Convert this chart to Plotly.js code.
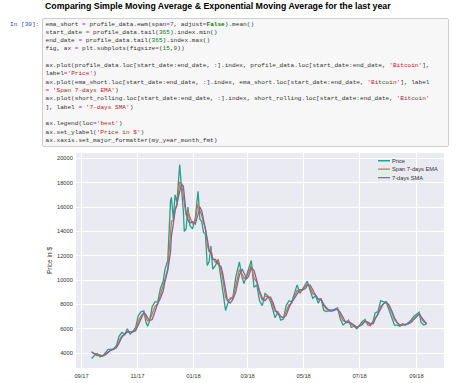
<!DOCTYPE html>
<html>
<head>
<meta charset="utf-8">
<script src="https://cdn.plot.ly/plotly-3.0.1.min.js"></script>
<style>
  html, body { margin:0; padding:0; background:#fff; width:474px; height:383px; overflow:hidden; }
  #chart { position:absolute; left:0; top:0; width:474px; height:383px; }
  #heading { position:absolute; left:45px; top:0px; font-family:"Liberation Sans", Arial, sans-serif; font-weight:bold; font-size:10px; color:#000; white-space:nowrap; line-height:13px; }
  #prompt { position:absolute; left:10px; top:20.5px; font-family:"Liberation Mono", monospace; font-size:6.1px; line-height:8.33px; color:#303F9F; white-space:pre; }
  #codebox { position:absolute; left:42px; top:18px; width:405px; height:127px; background:#f7f7f7; border:1px solid #cfcfcf; border-radius:2px; }
  #code { position:absolute; left:45.5px; top:20.5px; margin:0; font-family:"Liberation Mono", monospace; font-size:6.1px; line-height:8.33px; color:#333; }
  #code div { white-space:pre; height:8.33px; }
  .s { color:#BA2121; }
  .k { color:#008000; font-weight:bold; }
  .o { color:#AA22FF; }
  .n { color:#008000; }
</style>
</head>
<body>
<div id="heading">Comparing Simple Moving Average &amp; Exponential Moving Average for the last year</div>
<div id="prompt">In [30]:</div>
<div id="codebox"></div>
<div id="code">
<div>ema_short <span class="o">=</span> profile_data.ewm(span<span class="o">=</span><span class="n">7</span>, adjust<span class="o">=</span><span class="k">False</span>).mean()</div>
<div>start_date <span class="o">=</span> profile_data.tail(<span class="n">365</span>).index.min()</div>
<div>end_date <span class="o">=</span> profile_data.tail(<span class="n">365</span>).index.max()</div>
<div>fig, ax <span class="o">=</span> plt.subplots(figsize<span class="o">=</span>(<span class="n">15</span>,<span class="n">9</span>))</div>
<div></div>
<div>ax.plot(profile_data.loc[start_date:end_date, :].index, profile_data.loc[start_date:end_date, <span class="s">'Bitcoin'</span>],</div>
<div>label<span class="o">=</span><span class="s">'Price'</span>)</div>
<div>ax.plot(ema_short.loc[start_date:end_date, :].index, ema_short.loc[start_date:end_date, <span class="s">'Bitcoin'</span>], label</div>
<div><span class="o">=</span> <span class="s">'Span 7-days EMA'</span>)</div>
<div>ax.plot(short_rolling.loc[start_date:end_date, :].index, short_rolling.loc[start_date:end_date, <span class="s">'Bitcoin'</span></div>
<div>], label <span class="o">=</span> <span class="s">'7-days SMA'</span>)</div>
<div></div>
<div>ax.legend(loc<span class="o">=</span><span class="s">'best'</span>)</div>
<div>ax.set_ylabel(<span class="s">'Price in $'</span>)</div>
<div>ax.xaxis.set_major_formatter(my_year_month_fmt)</div>
</div>
<div id="chart"></div>
<script>
// ---- data ----
const dates = [
 '2017-09-12','2017-09-15','2017-09-18','2017-09-21','2017-09-24','2017-09-27','2017-09-30',
 '2017-10-03','2017-10-06','2017-10-09','2017-10-12','2017-10-15','2017-10-18','2017-10-21','2017-10-24','2017-10-27','2017-10-30',
 '2017-11-02','2017-11-05','2017-11-08','2017-11-10','2017-11-12','2017-11-14','2017-11-17','2017-11-20','2017-11-23','2017-11-26','2017-11-29',
 '2017-12-01','2017-12-04','2017-12-07','2017-12-08','2017-12-10','2017-12-12','2017-12-14','2017-12-17','2017-12-19','2017-12-21','2017-12-22','2017-12-24','2017-12-26','2017-12-28','2017-12-31',
 '2018-01-03','2018-01-06','2018-01-08','2018-01-10','2018-01-12','2018-01-14','2018-01-16','2018-01-18','2018-01-20','2018-01-22','2018-01-25','2018-01-28','2018-01-31',
 '2018-02-02','2018-02-05','2018-02-07','2018-02-10','2018-02-13','2018-02-16','2018-02-20','2018-02-23','2018-02-25','2018-02-28',
 '2018-03-02','2018-03-05','2018-03-08','2018-03-11','2018-03-14','2018-03-17','2018-03-20','2018-03-23','2018-03-26','2018-03-29','2018-03-31',
 '2018-04-03','2018-04-06','2018-04-09','2018-04-12','2018-04-15','2018-04-18','2018-04-21','2018-04-24','2018-04-27','2018-04-30',
 '2018-05-03','2018-05-05','2018-05-08','2018-05-11','2018-05-14','2018-05-17','2018-05-20','2018-05-23','2018-05-26','2018-05-29',
 '2018-06-01','2018-06-04','2018-06-07','2018-06-10','2018-06-13','2018-06-16','2018-06-19','2018-06-22','2018-06-25','2018-06-28',
 '2018-07-01','2018-07-04','2018-07-07','2018-07-10','2018-07-13','2018-07-16','2018-07-18','2018-07-21','2018-07-24','2018-07-27','2018-07-30',
 '2018-08-02','2018-08-05','2018-08-08','2018-08-11','2018-08-14','2018-08-17','2018-08-20','2018-08-23','2018-08-26','2018-08-29',
 '2018-09-01','2018-09-04','2018-09-06','2018-09-09','2018-09-12'
];
const price = [
 3550,3800,3950,3700,3750,4050,4300,4300,4350,4600,5400,5700,5550,6000,5550,5800,6100,7100,7400,7450,6600,6200,6600,7800,8200,8200,9300,9900,10900,11600,16500,16800,15000,17000,16400,19500,17700,15600,14000,14200,16000,14500,14200,
 15100,17300,15000,14800,13900,13800,11200,11500,12800,10900,11200,11700,10200,
 9100,7500,8000,8500,8600,10200,11500,10200,9700,10400,
 11000,11600,9400,9600,8300,7900,8900,8700,8200,7400,6900,
 7400,6700,6800,7900,8300,8200,8900,9600,8900,9300,
 9700,9900,9200,8500,8700,8100,8500,7500,7400,7500,
 7500,7600,7700,6800,6300,6500,6700,6100,6200,6000,
 6350,6600,6750,6300,6250,6700,7300,7400,8300,8200,8200,
 7600,7000,6300,6300,6200,6400,6300,6500,6700,7000,
 7200,7350,6500,6300,6400
];
const ema7 = [
 4100,3930,3940,3800,3770,3930,4145,4235,4300,4475,5010,5410,5490,5785,5650,5737,5950,6617,7070,7290,6985,6640,6622,7305,7825,8043,8772,9426,10075,10960,14173,14830,14905,15827,16079,18063,17903,16890,16168,15302,15609,15121,14587,
 14885,16285,15720,15315,14692,14300,12936,12304,12522,11808,11455,11597,10787,
 10045,8569,8319,8424,8526,9497,10859,10477,10135,10289,
 10602,11181,10148,9830,8943,8338,8664,8685,8404,7822,7416,
 7407,6997,6883,7473,7953,8096,8562,9164,9011,9179,
 9481,9665,9395,8876,8774,8383,8451,7899,7610,7546,
 7519,7566,7644,7154,6659,6567,6644,6328,6254,6107,
 6248,6452,6625,6436,6328,6544,6877,7180,7830,8045,8135,
 7825,7346,6739,6484,6319,6366,6328,6428,6586,6826,
 7043,7221,6904,6554,6465
];
const sma7 = [
 4080,3900,3790,3825,3780,3840,4060,4240,4320,4425,4820,5300,5570,5745,5730,5750,5840,6375,6955,7340,7180,6900,6650,6750,7500,8050,8500,9100,9900,10800,12300,13600,14600,15700,16300,17200,17900,17700,17000,15500,14900,14700,14800,
 14600,15400,16000,15700,15000,14300,13400,12500,12200,11700,11700,11300,11100,
 10500,9100,8300,8100,8400,9000,10400,10900,10600,10100,
 10300,11000,10800,9900,9100,8500,8300,8600,8600,8100,7600,
 7200,7000,6900,7100,7700,8200,8500,8900,9200,9200,
 9300,9550,9600,9200,8750,8450,8400,8000,7700,7450,
 7450,7530,7600,7350,6900,6500,6500,6450,6300,6100,
 6200,6350,6600,6550,6400,6420,6800,7200,7700,8050,8200,
 7950,7500,6900,6500,6270,6300,6330,6400,6520,6750,
 7000,7200,7000,6700,6400
];
const seriesNames = ['Price', 'Span 7-days EMA', '7-days SMA'];
const tickDates = ['2017-09-01','2017-11-01','2018-01-01','2018-03-01','2018-05-01','2018-07-01','2018-09-01'];
const tickLabels = ['09/17','11/17','01/18','03/18','05/18','07/18','09/18'];
const yTicks = [4000,6000,8000,10000,12000,14000,16000,18000,20000];

// fit heading width to reference
(function(){
  const h = document.getElementById('heading');
  const w = h.getBoundingClientRect().width;
  h.style.fontSize = (10 * 346 / w) + 'px';
})();

const colors = ['#24a386', '#e4693f', '#6f6ca6'];
const data = [
  {x: dates, y: price, name: seriesNames[0], type: 'scatter', mode: 'lines', line: {color: colors[0], width: 1.3}},
  {x: dates, y: ema7, name: seriesNames[1], type: 'scatter', mode: 'lines', line: {color: colors[1], width: 1.3}},
  {x: dates, y: sma7, name: seriesNames[2], type: 'scatter', mode: 'lines', line: {color: colors[2], width: 1.3}}
];
const fontFam = '"Liberation Sans", Arial, sans-serif';
const layout = {
  width: 474, height: 383,
  margin: {l: 76, r: 30, t: 153, b: 15, pad: 0},
  paper_bgcolor: 'rgba(0,0,0,0)',
  plot_bgcolor: '#EAEAF2',
  font: {family: fontFam, size: 5.7, color: '#333'},
  showlegend: true,
  legend: {x: 0.75, y: 0.985, xanchor: 'left', yanchor: 'top', bgcolor: 'rgba(0,0,0,0)', borderwidth: 0,
           font: {family: fontFam, size: 5.7, color: '#333'}},
  xaxis: {
    type: 'date', range: ['2017-08-26', '2018-10-01'],
    tickvals: tickDates, ticktext: tickLabels,
    showgrid: true, gridcolor: '#ffffff', gridwidth: 1,
    zeroline: false, showline: false, ticks: 'outside', ticklen: 2, tickcolor: 'rgba(0,0,0,0)',
    tickfont: {family: fontFam, size: 5.7, color: '#333'}
  },
  yaxis: {
    range: [2770, 20440], tickvals: yTicks, tickformat: 'd',
    showgrid: true, gridcolor: '#ffffff', gridwidth: 1,
    zeroline: false, showline: false, ticks: 'outside', ticklen: 1, tickcolor: 'rgba(0,0,0,0)',
    tickfont: {family: fontFam, size: 5.7, color: '#333'},
    automargin: true,
    title: {text: 'Price in $', font: {family: fontFam, size: 6.5, color: '#333'}, standoff: 3}
  }
};
const gd = document.getElementById('chart');
Plotly.newPlot(gd, data, layout, {staticPlot: true, displayModeBar: false}).then(function(){
  const items = gd.querySelectorAll('g.legend g.traces');
  let y0 = null;
  items.forEach(function(g, i){
    const t = g.getAttribute('transform') || '';
    const m = t.match(/translate\(\s*([-\d.]+)[ ,]+([-\d.]+)\s*\)/);
    if (y0 === null) y0 = (m ? parseFloat(m[2]) : 8) - 10;
    g.setAttribute('transform', 'translate(0,' + (y0 + i * 8.4) + ')');
  });
  gd.querySelectorAll('g.legend g.legendlines path').forEach(function(p){
    p.setAttribute('d', 'M26,0h12');
  });
});
</script>
</body>
</html>
